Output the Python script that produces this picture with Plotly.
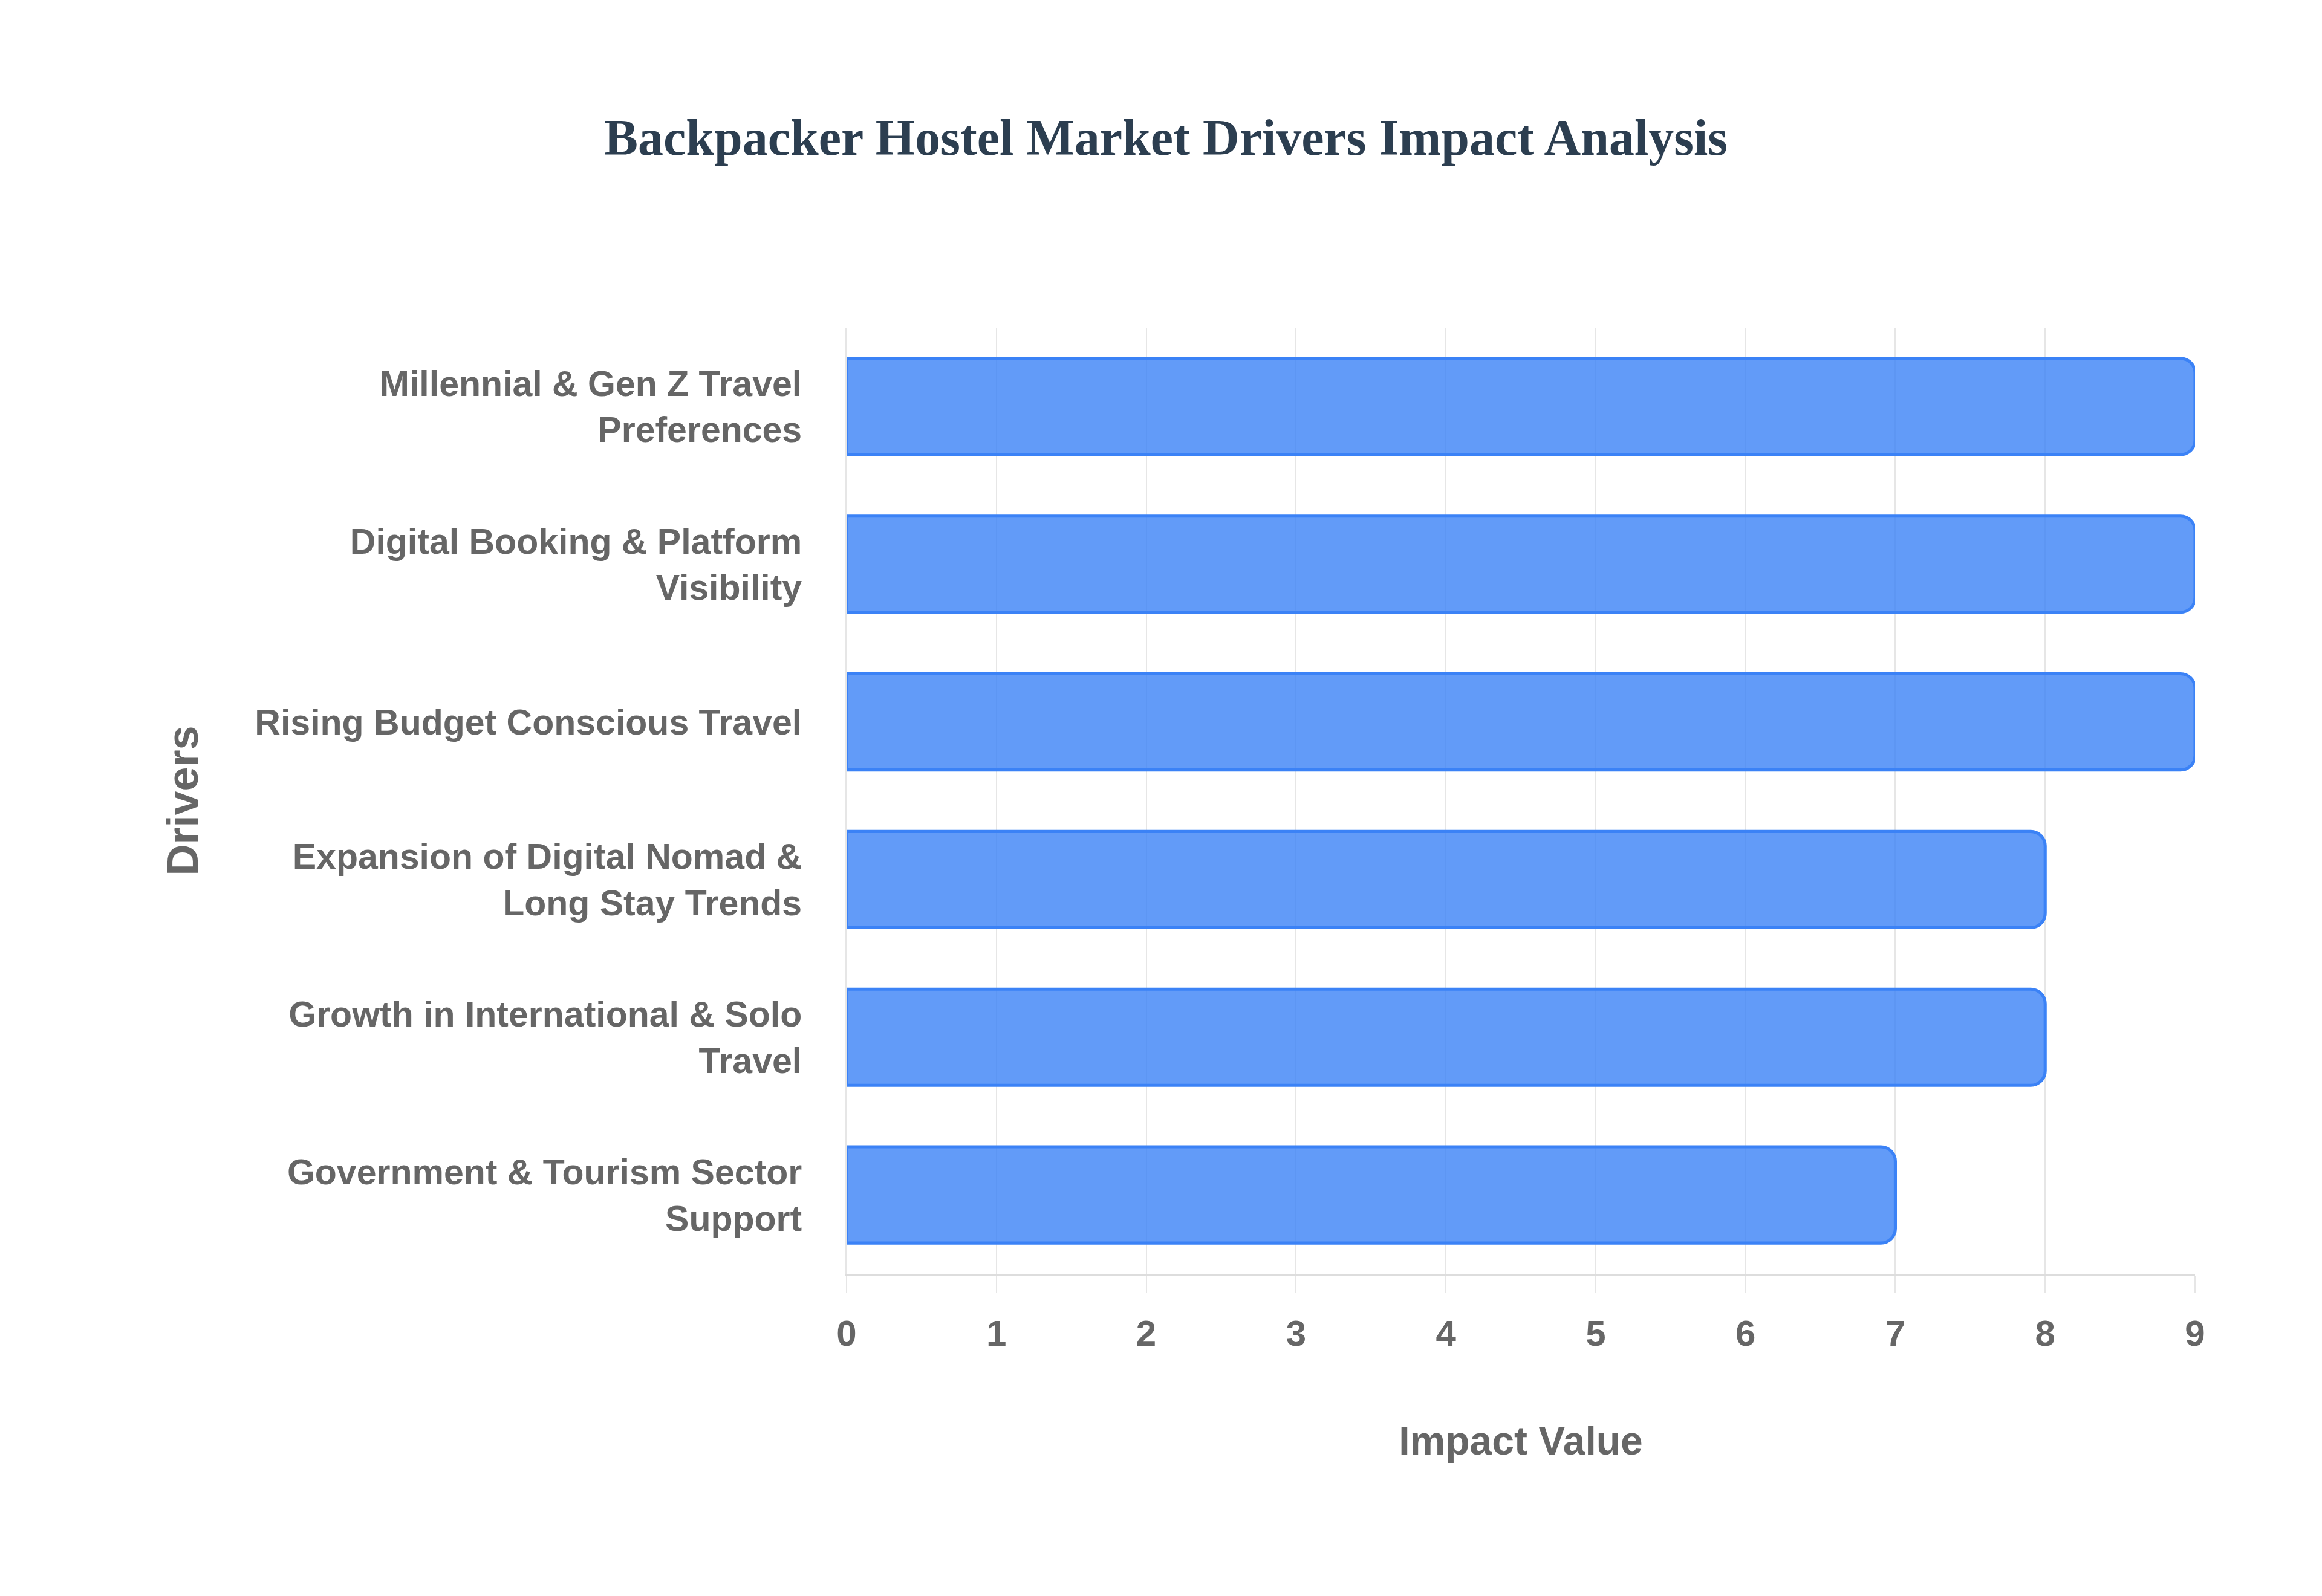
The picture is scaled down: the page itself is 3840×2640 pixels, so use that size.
import plotly.graph_objects as go

# Drivers listed top to bottom as they appear in the chart
drivers = [
    "Millennial & Gen Z Travel<br>Preferences",
    "Digital Booking & Platform<br>Visibility",
    "Rising Budget Conscious Travel",
    "Expansion of Digital Nomad &<br>Long Stay Trends",
    "Growth in International & Solo<br>Travel",
    "Government & Tourism Sector<br>Support",
]
impact = [9, 9, 9, 8, 8, 7]
x_ticks = [0, 1, 2, 3, 4, 5, 6, 7, 8, 9]

S = 3  # the original was drawn at 1280x880 and exported at 3x

text_gray = "#666666"
grid_gray = "#e6e6e6"

fig = go.Figure(go.Bar(
    x=impact,
    y=drivers,
    orientation="h",
    marker=dict(
        color="rgba(59,130,246,0.8)",
        line=dict(color="rgb(59,130,246)", width=1.7 * S),
        cornerradius=8 * S,
    ),
    hoverinfo="x+y",
))

fig.update_layout(
    width=1280 * S,
    height=880 * S,
    paper_bgcolor="white",
    plot_bgcolor="white",
    bargap=0.39,
    showlegend=False,
    margin=dict(l=1392, r=218, t=534, b=541, pad=0),
    title=dict(
        text="<b>Backpacker Hostel Market Drivers Impact Analysis</b>",
        font=dict(family="Times New Roman, Liberation Serif, serif", size=28 * S, color="#2c3e50"),
        x=0.5, xanchor="center", xref="container",
        y=1 - 219 / 2640, yanchor="middle", yref="container",
    ),
    font=dict(family="Arial, Liberation Sans, sans-serif", color=text_gray),
)

fig.update_xaxes(
    range=[0, 9],
    tickvals=x_ticks,
    ticktext=[f"<b>{v}</b>" for v in x_ticks],
    tickfont=dict(size=20 * S, color=text_gray),
    showgrid=True, gridcolor=grid_gray, gridwidth=2,
    zeroline=False,
    showline=True, linecolor="#dddddd", linewidth=3,
    ticks="outside", ticklen=28, tickcolor=grid_gray, tickwidth=2,
    ticklabelstandoff=16,
    title=dict(text="<b>Impact Value</b>", font=dict(size=22 * S, color=text_gray), standoff=122),
    automargin=False,
)

fig.update_yaxes(
    categoryorder="array",
    categoryarray=drivers[::-1],
    tickvals=drivers,
    ticktext=[f"<b>{d}</b>" for d in drivers],
    tickfont=dict(size=59, color=text_gray),
    showgrid=False,
    zeroline=False,
    showline=True, linecolor=grid_gray, linewidth=2,
    ticks="",
    ticklabelstandoff=60,
    title=dict(text="<b>Drivers</b>", font=dict(size=24 * S, color=text_gray), standoff=70),
    automargin=False,
)

fig.write_html("out.html")
